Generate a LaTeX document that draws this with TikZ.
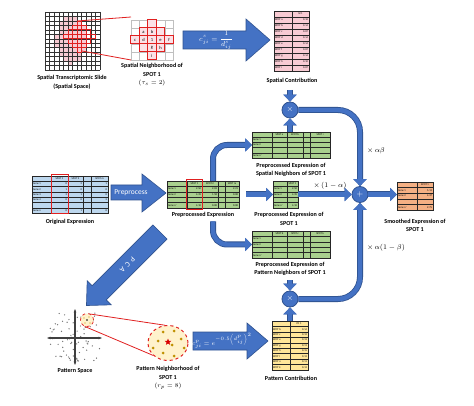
\documentclass[tikz,border=0pt]{standalone}
\usepackage{fontspec}
\setmainfont{Carlito}
\usepackage{amsmath}
\usetikzlibrary{arrows.meta,shapes.geometric,calc}
\definecolor{pblue}{HTML}{4472C4}
\definecolor{pdark}{HTML}{2F528F}
\definecolor{tgreen}{HTML}{A9D08E}
\definecolor{tblue}{HTML}{BDD7EE}
\definecolor{torange}{HTML}{F4B084}
\definecolor{tpink}{HTML}{F8CBD3}
\definecolor{npink}{HTML}{FBE1E6}
\definecolor{tyellow}{HTML}{FFE699}
\definecolor{nyellow}{HTML}{FFF2CC}
\definecolor{dotkhaki}{HTML}{BF9000}
\definecolor{redline}{HTML}{E02020}
\newcommand\tabbox[8]{%
  \node[tab, fill=#6, minimum width=#4pt, minimum height=#5pt] (#1) at (#2,#3) {};
  \foreach \xx in {#7} \draw[tabline] (\xx,#3) -- (\xx,#3+#5);
  \pgfmathsetmacro\rh{#5/#8}
  \pgfmathtruncatemacro\nr{#8-1}
  \foreach \kk in {1,...,\nr} \draw[tabline] (#2,#3+\kk*\rh) -- (#2+#4,#3+\kk*\rh);
}
\begin{document}
\begin{tikzpicture}[x=1pt,y=-1pt,
  lbl/.style={font=\bfseries\fontsize{6.1}{8.6}\selectfont, align=center, inner sep=0},
  mlbl/.style={font=\fontsize{7}{8}\selectfont, inner sep=0},
  tab/.style={draw=black!85, line width=0.45pt, anchor=north west, inner sep=0, outer sep=0},
  tabline/.style={draw=black!85, line width=0.35pt},
  cell/.style={font=\fontsize{2.7}{3}\selectfont, inner sep=0},
  pipe/.style={draw=pblue, line width=4.4pt, preaction={draw=pdark, line width=6pt}},
  pipearrow/.style={pipe, -{Triangle[length=7pt,width=13pt]}},
  op/.style={circle, fill=pblue, draw=pdark, line width=0.8pt, minimum size=16pt, inner sep=0, text=white, font=\fontsize{8}{8}\selectfont},
  blockarrow/.style={fill=pblue, draw=pdark, line width=0.6pt},
  arrowtxt/.style={text=white, font=\fontsize{7.5}{8}\selectfont, inner sep=0},
  nbrtxt/.style={font=\fontsize{4.5}{5}\selectfont, inner sep=0},
  redl/.style={draw=redline, line width=0.8pt}]
\useasboundingbox (0,0) rectangle (474,406);

% ---------- spatial slide ----------
\foreach \i in {0,...,11} \foreach \j in {0,...,12} {
  \pgfmathtruncatemacro\inblob{((\i+0.5-5.7)/3.3)^2+((\j+0.5-6.3)/5.3)^2<1 ? 1 : 0}
  \ifnum\inblob=1 \fill[tpink] (45+\i*4.58,12+\j*4.46) rectangle ++(4.58,4.46); \fi
}
\foreach \i in {0,...,12} \draw[black!80, line width=0.4pt] (45+\i*4.58,12) -- (45+\i*4.58,70);
\foreach \j in {0,...,13} \draw[black!80, line width=0.4pt] (45,12+\j*4.46) -- (100,12+\j*4.46);
\node[inner sep=0, minimum width=55pt, minimum height=58pt, anchor=north west] (slide) at (45,12) {};
\foreach \dx in {-3,...,3} \foreach \dy in {-3,...,3} {
  \pgfmathtruncatemacro\mm{abs(\dx)+abs(\dy)}
  \ifnum\mm<4 \draw[redl, line width=0.7pt] (45+7*4.58+\dx*4.58, 12+5*4.46+\dy*4.46) rectangle ++(4.58,4.46); \fi
}
\node[lbl] (slidelbl) at (72,82.5) {Spatial Transcriptomic Slide\\(Spatial Space)};

% ---------- neighbourhood zoom ----------
\draw[redl] (77,21) -- (131,17);
\draw[redl] (82,51) -- (131,60);
\foreach \dx in {-2,...,2} \foreach \dy in {-2,...,2}
  \draw[black!25, line width=0.3pt, fill=white] (147.75+\dx*8.5, 36+\dy*8) rectangle ++(8.5,8);
\foreach \dx in {-2,...,2} \foreach \dy in {-2,...,2} {
  \pgfmathtruncatemacro\mm{abs(\dx)+abs(\dy)}
  \ifnum\mm<3 \draw[redl, line width=1pt, fill=npink] (147.75+\dx*8.5, 36+\dy*8) rectangle ++(8.5,8); \fi
}
\foreach \dx/\dy/\t in {-1/-1/a, 0/-1/b, -2/0/c, -1/0/d, 0/0/1, 1/0/e, 2/0/f, 0/1/g, 1/1/h, 0/2/i}
  \node[nbrtxt] at (152+\dx*8.5, 40+\dy*8) {\t};
\node[lbl] (nbrlbl) at (152,75) {Spatial Neighborhood of\\SPOT 1\\$(\tau_s = 2)$};

% ---------- spatial formula arrow ----------
\path[blockarrow] (183,31) -- (246,31) -- (246,19) -- (270,40) -- (246,61) -- (246,49) -- (183,49) -- cycle;
\node[arrowtxt, font=\fontsize{7.5}{8}\selectfont] (fs) at (216,40.5) {$c_{ji}^{s}=\dfrac{1}{d_{ij}^{s}}$};

% ---------- spatial contribution table ----------
\tabbox{sc}{274}{11}{35}{60}{tpink}{292}{10}
\node[cell] at (300.5,14) {SC1};
\foreach \s/\v [count=\i] in {a/0.10,b/0.14,c/0.07,d/0.14,e/0.14,f/0.07,g/0.14,h/0.10,i/0.07} {
  \node[cell,anchor=west] at (274.8,14+\i*6) {SPOT \s};
  \node[cell,anchor=east] at (308.2,14+\i*6) {\v};
}
\node[lbl] (sclbl) at (292,81) {Spatial Contribution};

% ---------- original expression ----------
\tabbox{orig}{32}{176}{76}{37}{tblue}{51,68,83,91}{7}
\foreach \t/\x in {SPOT 1/59.5,SPOT 2/75.5,SPOT m/99.5} \node[cell] at (\x,178.64) {\t};
\foreach \g/\a/\b/\c [count=\i] in {Gene 1/0/2/1,Gene 2/1/0/0,Gene 3/3/1/0,Gene 4/0/0/2,{}/{}/{}/{},Gene n/0/1/0} {
  \node[cell,anchor=west] at (32.8,178.64+\i*5.286) {\g};
  \node[cell,anchor=east] at (67.2,178.64+\i*5.286) {\a};
  \node[cell,anchor=east] at (82.2,178.64+\i*5.286) {\b};
  \node[cell,anchor=east] at (107.2,178.64+\i*5.286) {\c};
}
\draw[redl, line width=1pt] (51,175) rectangle (68,214);
\node[lbl] (origlbl) at (70,222) {Original Expression};

% ---------- preprocess arrow ----------
\path[blockarrow] (111,185) -- (142,185) -- (142,174) -- (166,193) -- (142,212) -- (142,200) -- (111,200) -- cycle;
\node[arrowtxt] (prep) at (131,192.5) {Preprocess};

% ---------- preprocessed expression ----------
\tabbox{pe}{167}{181}{72}{27}{tgreen}{187,202,218,225}{5}
\foreach \t/\x in {SPOT 1/194.5,SPOT 2/210,SPOT m/232} \node[cell] at (\x,183.7) {\t};
\foreach \g/\a/\b/\c [count=\i] in {Gene 1/2.50/2.03/2.21,Gene 2/4.35/1.58/0.00,{}/{}/{}/{},Gene n'/4.10/0.00/0.00} {
  \node[cell,anchor=west] at (167.8,183.7+\i*5.4) {\g};
  \node[cell,anchor=east] at (201.2,183.7+\i*5.4) {\a};
  \node[cell,anchor=east] at (217.2,183.7+\i*5.4) {\b};
  \node[cell,anchor=east] at (238.2,183.7+\i*5.4) {\c};
}
\draw[redl, line width=1pt] (186.5,179.5) rectangle (202.5,209.5);
\node[lbl] (pelbl) at (203,214.5) {Preprocessed Expression};

% ---------- SPOT 1 expression ----------
\tabbox{s1}{273}{181}{25}{27}{tgreen}{287}{5}
\node[cell] at (292.5,183.7) {SPOT 1};
\foreach \g/\a [count=\i] in {Gene 1/2.50,Gene 2/4.35,{}/{},Gene n'/4.10} {
  \node[cell,anchor=west] at (273.8,183.7+\i*5.4) {\g};
  \node[cell,anchor=east] at (297.2,183.7+\i*5.4) {\a};
}
\node[lbl] (s1lbl) at (289,219) {Preprocessed Expression of\\SPOT 1};

% ---------- spatial neighbours expression ----------
\tabbox{sn}{252}{132}{78}{26}{tgreen}{272,287,303,310}{5}
\foreach \t/\x in {SPOT a/279.5,SPOT b/295,SPOT i/320} \node[cell] at (\x,134.6) {\t};
\foreach \g [count=\i] in {Gene 1,Gene 2,{},Gene n'} \node[cell,anchor=west] at (252.8,134.6+\i*5.2) {\g};
\node[lbl] (snlbl) at (291,170) {Preprocessed Expression of\\Spatial Neighbors of SPOT 1};

% ---------- pattern neighbours expression ----------
\tabbox{pn}{252}{231}{78}{27}{tgreen}{272,287,303,310}{5}
\foreach \t/\x in {SPOT b/279.5,SPOT c/295,SPOT k/320} \node[cell] at (\x,233.7) {\t};
\foreach \g [count=\i] in {Gene 1,Gene 2,{},Gene n'} \node[cell,anchor=west] at (252.8,233.7+\i*5.4) {\g};
\node[lbl] (pnlbl) at (290,269) {Preprocessed Expression of\\Pattern Neighbors of SPOT 1};

% ---------- smoothed ----------
\tabbox{sm}{397}{182}{36}{28}{torange}{417}{5}
\node[cell] at (425,184.8) {SPOT 1};
\foreach \g/\a [count=\i] in {Gene 1/5.12,Gene 2/4.37,{}/{},Gene n'/2.75} {
  \node[cell,anchor=west] at (397.8,184.8+\i*5.6) {\g};
  \node[cell,anchor=east] at (432.2,184.8+\i*5.6) {\a};
}
\node[lbl] (smlbl) at (415,225.5) {Smoothed Expression of\\SPOT 1};

% ---------- pattern contribution ----------
\tabbox{pc}{272}{321}{36}{49}{tyellow}{290}{9}
\node[cell] at (299,323.7) {PC 1};
\foreach \s/\v [count=\i] in {b/0.14,c/0.12,e/0.13,g/0.11,h/0.15,l/0.12,n/0.11,k/0.12} {
  \node[cell,anchor=west] at (272.8,323.7+\i*5.444) {SPOT \s};
  \node[cell,anchor=east] at (307.2,323.7+\i*5.444) {\v};
}
\node[lbl] (pclbl) at (291,378) {Pattern Contribution};

% ---------- operators ----------
\node[op] (mul1) at (290,110) {$\times$};
\node[op] (plus) at (360,194.5) {$+$};
\node[op] (mul2) at (290,299) {$\times$};

% ---------- connectors ----------
\draw[pipearrow] ($(mul1.north |- sclbl.south)+(0,6)$) -- (mul1.north);
\draw[pipearrow] (sn.north -| mul1) -- (mul1.south);
\draw[pipearrow, rounded corners=22pt] (mul1.east) -| (plus.north);
\draw[pipearrow, rounded corners=22pt] (mul2.east) -| (plus.south);
\draw[pipearrow] ($(mul2.north |- pnlbl.south)+(0,4)$) -- (mul2.north);
\draw[pipearrow] (pc.north -| mul2) -- (mul2.south);
\draw[pipearrow, rounded corners=14pt] ($(pe.north)+(10,0)$) |- (sn.west);
\draw[pipearrow, rounded corners=14pt] ($(pelbl.south)+(10,4)$) |- (pn.west);
\draw[pipearrow] ($(pe.east)+(7,0)$) -- (s1.west);
\draw[pipearrow] (s1.east) -- (plus.west);
\draw[pipearrow] (plus.east) -- (plus.east -| sm.west);

\node[mlbl] (lab1) at (376,151) {$\times\,\alpha\beta$};
\node[mlbl] (lab2) at (386,248) {$\times\,\alpha(1-\beta)$};
\node[mlbl] (lab3) at (330,186) {$\times\,(1-\alpha)$};

% ---------- PCA arrow ----------
\begin{scope}[shift={(160,232)}, rotate=225]
  \path[blockarrow] (0,-10) -- (86,-10) -- (86,-17) -- (104,0) -- (86,17) -- (86,10) -- (0,10) -- cycle;
  \node[arrowtxt, transform shape] (pca) at (46,0) {P\hspace{3pt}C\hspace{3pt}A};
\end{scope}

% ---------- pattern space ----------
\pgfmathsetseed{7}
\foreach \k in {1,...,75} {
  \pgfmathsetmacro\px{75+26*rand}
  \pgfmathsetmacro\py{337+24*rand}
  \fill[black!55] (\px,\py) circle (0.7);
}
\draw[black!75, line width=1.1pt, {Stealth[length=3.5pt]}-{Stealth[length=3.5pt]}] (47,338) -- (102,338);
\draw[black!75, line width=1.1pt, {Stealth[length=3.5pt]}-{Stealth[length=3.5pt]}] (75,309) -- (75,365);
\node[circle, draw=redline, dashed, fill=nyellow, minimum size=13pt, inner sep=0, line width=0.7pt] (psn) at (87,320) {};
\foreach \p in {(84,318),(89,317),(85,323),(90,323)} \fill[dotkhaki] \p circle (0.7);
\fill[black] (87,320) circle (0.8);
\node[lbl] (pslbl) at (75,371) {Pattern Space};

% ---------- pattern neighbourhood ----------
\node[ellipse, draw=redline, dashed, fill=nyellow, minimum width=40pt, minimum height=35pt, inner sep=0, line width=1pt] (pnb) at (168,343) {};
\draw[redl] (psn.60) -- (pnb.100);
\draw[redl] (psn.250) -- (pnb.220);
\foreach \p in {(163,332),(174,331),(158,341),(181,339),(153,348),(163,353),(174,356),(184,348),(172,345)} \fill[dotkhaki] \p circle (1.5);
\node[star, star points=5, star point ratio=2.3, fill=red!85!black, minimum size=7pt, inner sep=0] (spot1) at (168,342) {};
\node[lbl] (pnblbl) at (168,378) {Pattern Neighborhood of\\SPOT 1\\$(r_p = 8)$};

% ---------- pattern formula arrow ----------
\path[blockarrow] (193,332) -- (247,332) -- (247,323) -- (268,341) -- (247,359) -- (247,350) -- (193,350) -- cycle;
\node[arrowtxt, font=\fontsize{6.5}{7}\selectfont] (fp) at (222,341) {$c_{ji}^{p}=e^{-0.5\left(d_{ij}^{p}\right)^{2}}$};
\end{tikzpicture}
\end{document}
